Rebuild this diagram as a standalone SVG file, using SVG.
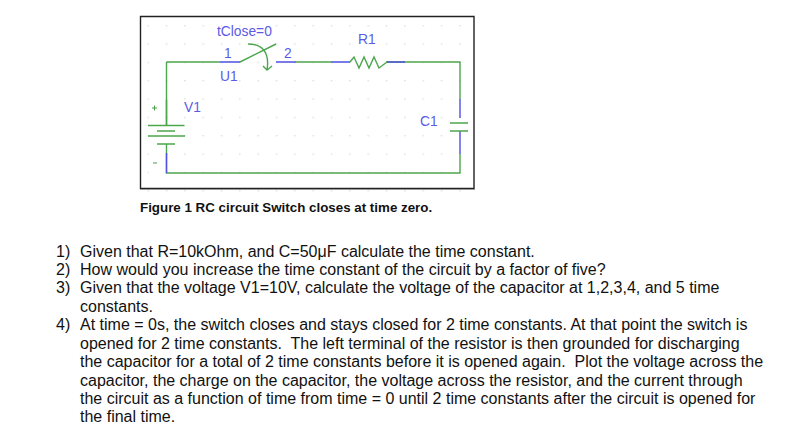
<svg xmlns="http://www.w3.org/2000/svg" width="808" height="437" viewBox="0 0 808 437">
<style>
.w{fill:none;stroke:#4ca64c;stroke-width:1.4}
.b{fill:none;stroke:#5050e0;stroke-width:1.4}
.l{font-family:"Liberation Sans",Arial,sans-serif;font-size:13.800px;fill:#5a5ae6}
.t{font-family:"Liberation Sans",Arial,sans-serif;font-size:16px;fill:#111;white-space:pre}
</style>
<defs><pattern id="g" x="147.500" y="25" width="18.330" height="18.330" patternUnits="userSpaceOnUse"><rect x="0.300" y="0.300" width="1" height="1" fill="#bbb"/></pattern></defs>
<rect width="808" height="437" fill="#fff"/>
<rect x="141" y="17" width="333" height="176" fill="url(#g)"/>
<path d="M140 16.500H474V188.500H140.500V16" fill="none" stroke="#222" stroke-width="1.400"/>
<path d="M140 189.500H475" stroke="#999" stroke-width="1"/>
<g id="connectors">
<path class="w" d="M166.500 62H220M166.500 62V100M296 62H331M386 62H460V99M460 154V173H166.500V153"/>
<path class="b" d="M166.500 100V125M220 62H240M276 62H296M331 62H350M387 62H405M460 99V118M460 131V154M166.500 153V173"/>
</g>
<g id="U1">
<path class="w" d="M240 62L276 44M248 44C262 44 270 52 267 70M263 66L267 70L272 66" />
<text class="l" x="217" y="36">tClose=0</text>
<text class="l" x="224" y="58">1</text>
<text class="l" x="284" y="58">2</text>
<text class="l" x="220" y="81">U1</text>
</g>
<g id="R1">
<path class="w" d="M350 62L354 57L359 68L364 57L369 68L374 57L379 68L387 62"/>
<text class="l" x="358" y="44">R1</text>
</g>
<g id="V1">
<path class="w" d="M148 125.500H184.500M157 131H175M148 136H185M157 144H175M166.500 125V100M166.500 144V153"/>
<text class="l" x="184" y="112">V1</text>
<path d="M152 108H157M154.500 105.500V110.500M153 163H157" stroke="#4c9a4c" stroke-width="1"/>
</g>
<g id="C1">
<path class="w" d="M450 123H468M450 131H468"/>
<text class="l" x="420" y="126">C1</text>
</g>
<text id="caption" x="140" y="212" font-family="'Liberation Sans',Arial,sans-serif" font-size="13.350" font-weight="700" fill="#111">Figure 1 RC circuit Switch closes at time zero.</text>
<g id="questions">
<text class="t" x="56" y="257">1)</text><text class="t" x="80" y="257">Given that R=10kOhm, and C=50μF calculate the time constant.</text>
<text class="t" x="56" y="275">2)</text><text class="t" x="80" y="275">How would you increase the time constant of the circuit by a factor of five?</text>
<text class="t" x="56" y="293">3)</text><text class="t" x="80" y="293">Given that the voltage V1=10V, calculate the voltage of the capacitor at 1,2,3,4, and 5 time</text>
<text class="t" x="80" y="312">constants.</text>
<text class="t" x="56" y="330">4)</text><text class="t" x="80" y="330">At time = 0s, the switch closes and stays closed for 2 time constants. At that point the switch is</text>
<text class="t" x="80" y="349">opened for 2 time constants.  The left terminal of the resistor is then grounded for discharging</text>
<text class="t" x="80" y="367">the capacitor for a total of 2 time constants before it is opened again.  Plot the voltage across the</text>
<text class="t" x="80" y="386">capacitor, the charge on the capacitor, the voltage across the resistor, and the current through</text>
<text class="t" x="80" y="404">the circuit as a function of time from time = 0 until 2 time constants after the circuit is opened for</text>
<text class="t" x="80" y="422">the final time.</text>
</g>
</svg>
